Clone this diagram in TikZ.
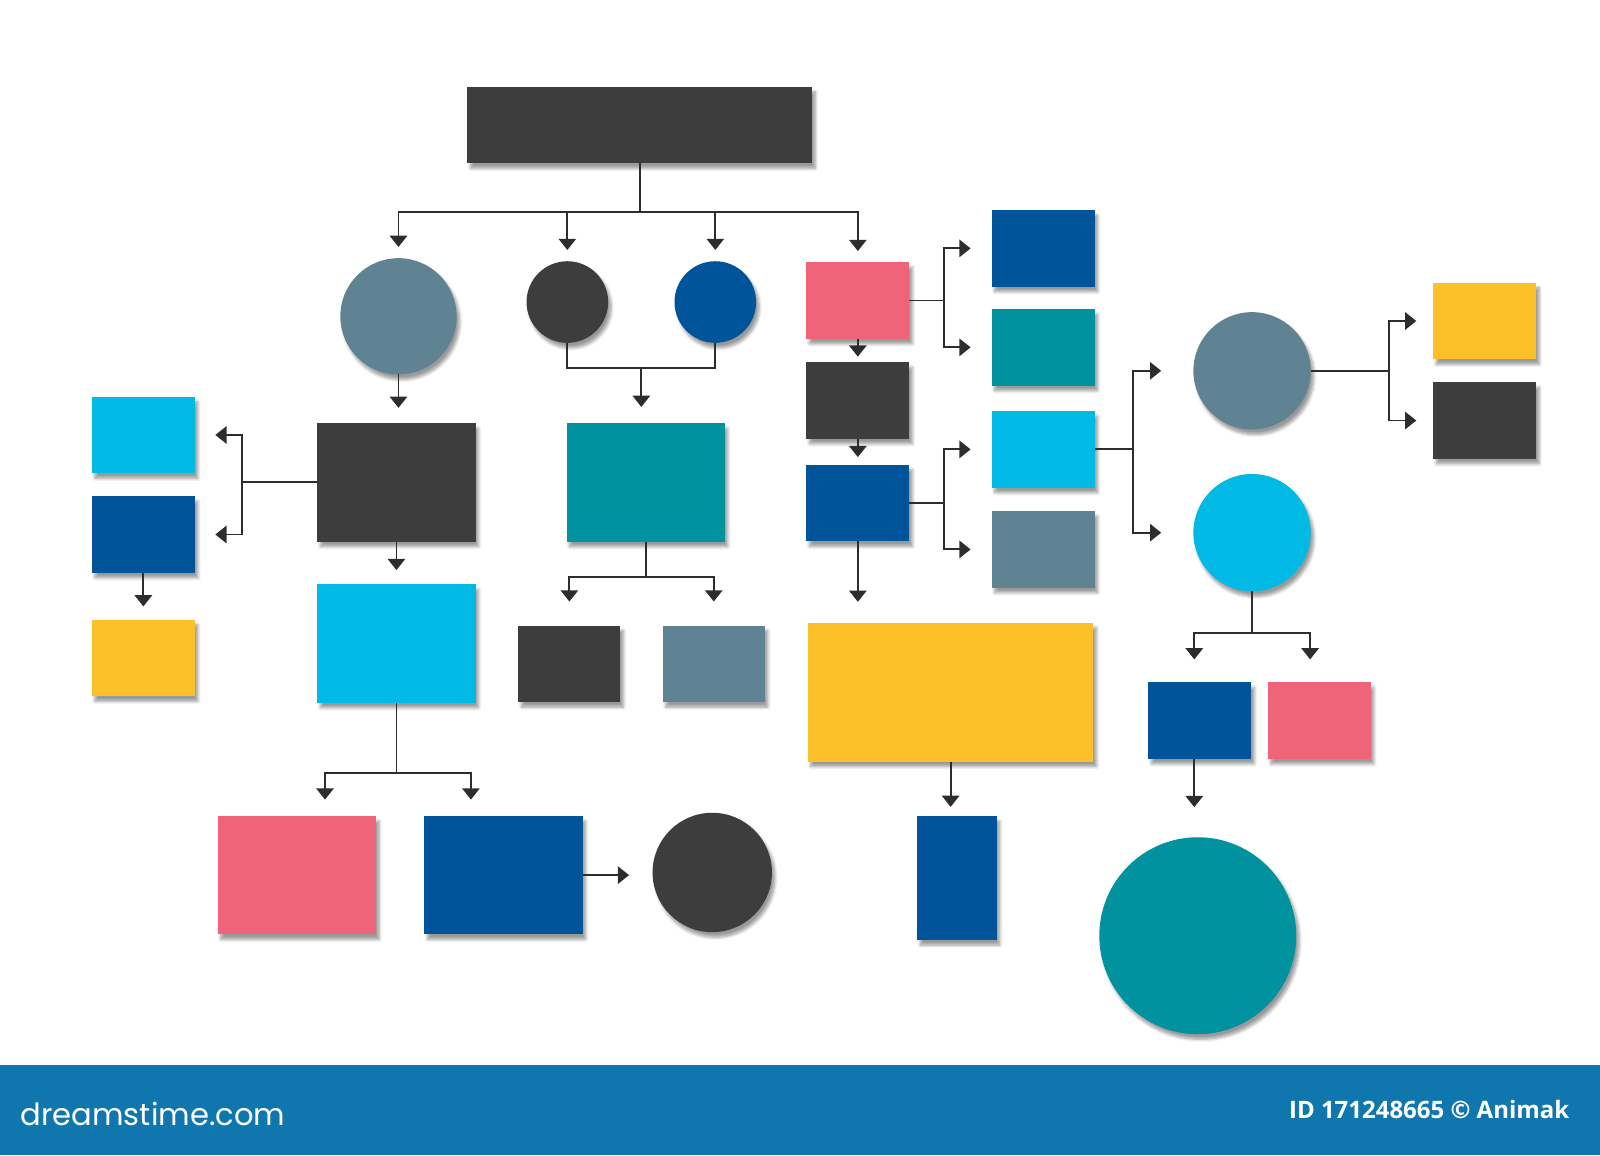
\documentclass[tikz,border=0pt]{standalone}
\usepackage{fontspec}
\setsansfont{Open Sans}
\newfontfamily\brandfont{Poppins}
\usepackage{tikz}
\usetikzlibrary{arrows.meta,positioning,calc,shadows.blur}
\definecolor{darkcolor}{RGB}{61,61,61}
\definecolor{slatecolor}{RGB}{95,131,147}
\definecolor{navycolor}{RGB}{0,85,154}
\definecolor{pinkcolor}{RGB}{240,100,122}
\definecolor{tealcolor}{RGB}{0,147,159}
\definecolor{cyancolor}{RGB}{0,185,229}
\definecolor{yellowcolor}{RGB}{254,192,40}
\definecolor{bandcolor}{RGB}{16,119,174}
\definecolor{linecolor}{RGB}{45,45,45}

\begin{document}
\begin{tikzpicture}[
    x=1pt, y=-1pt,
    paper/.style={blur shadow={shadow xshift=3pt, shadow yshift=-5pt, shadow blur radius=3pt, shadow blur steps=6, shadow opacity=40}},
    box/.style={rectangle, inner sep=0pt, outer sep=0pt, minimum width=101pt, minimum height=75pt, paper},
    bigbox/.style={box, minimum width=155pt, minimum height=116pt},
    disc/.style={circle, inner sep=0pt, outer sep=0pt, minimum size=#1, paper},
    line/.style={line width=1.8pt, draw=linecolor},
    arrow/.style={line, -{Triangle[width=17pt,length=11pt]}}
]
    \useasboundingbox (0,0) rectangle (1568,1132);

    % Nodes
    \node[box, minimum width=338pt, fill=darkcolor] (top) at (627,122.5) {};
    \node[disc=114pt, fill=slatecolor] (gray1) at (390.5,310) {};
    \node[disc=80pt, fill=darkcolor] (dark1) at (556,296) {};
    \node[disc=80pt, fill=navycolor] (blue1) at (701,296) {};
    \node[box, fill=pinkcolor] (pink1) at (840.7,294.5) {};
    \node[box, fill=darkcolor, below=23pt of pink1] (dark2) {};
    \node[box, fill=navycolor, below=25.5pt of dark2] (blue2) {};

    \node[box, fill=navycolor] (r1) at (1022.2,243.4) {};
    \node[box, fill=tealcolor, below=22pt of r1] (r2) {};
    \node[box, fill=cyancolor, below=25pt of r2] (r3) {};
    \node[box, fill=slatecolor, below=23pt of r3] (r4) {};

    \node[bigbox, fill=darkcolor] (darkL) at (388.5,472.7) {};
    \node[bigbox, fill=cyancolor, below=42pt of darkL] (cyanL) {};
    \node[bigbox, fill=tealcolor] (tealM) at (632.7,472.8) {};

    \node[box, fill=cyancolor] (lcyan) at (140.5,426.3) {};
    \node[box, fill=navycolor, below=22.5pt of lcyan] (lblue) {};
    \node[box, fill=yellowcolor, below=46pt of lblue] (lyellow) {};

    \node[box, minimum width=100pt, fill=darkcolor] (s1) at (558,650.5) {};
    \node[box, minimum width=100pt, fill=slatecolor] (s2) at (699.5,650.5) {};

    \node[bigbox, fill=pinkcolor] (pinkB) at (291,857.6) {};
    \node[bigbox, fill=navycolor, right=47.5pt of pinkB] (blueB) {};
    \node[disc=117pt, fill=darkcolor] (darkC) at (698,855) {};

    \node[box, minimum width=280pt, minimum height=136pt, fill=yellowcolor] (yellowB) at (931.6,678.3) {};
    \node[box, minimum width=78pt, minimum height=121.5pt, fill=navycolor] (blueT) at (937.8,860.5) {};

    \node[disc=115pt, fill=slatecolor] (grayR) at (1227,363.4) {};
    \node[disc=115pt, fill=cyancolor] (cyanR) at (1227,522) {};
    \node[box, fill=yellowcolor] (yellowS) at (1455,314.6) {};
    \node[box, fill=darkcolor, below=22.5pt of yellowS] (darkS) {};

    \node[box, fill=navycolor] (blueS) at (1175.9,706.2) {};
    \node[box, fill=pinkcolor, right=16pt of blueS] (pinkS) {};
    \node[disc=193pt, fill=tealcolor] (tealC) at (1173.8,917) {};

    % Arrows
    \draw[line] (top.south) -- ++(0,48) coordinate (hub);
    \foreach \n in {gray1,dark1,blue1,pink1}
        \draw[arrow, shorten >=11pt] (hub) -| (\n.north);

    \draw[line] (dark1.south) -- ++(0,25) -| (blue1.south);
    \coordinate (join) at ($(dark1.south)!0.5!(blue1.south)+(0,25)$);
    \draw[arrow, shorten >=16pt] (join) -- (join |- tealM.north);

    \draw[arrow, shorten >=15pt] (gray1.south) -- (gray1.south |- darkL.north);
    \draw[line] (darkL.west) -- ++(-74,0) coordinate (lhub);
    \foreach \n in {lcyan,lblue}
        \draw[arrow, shorten >=20pt] (lhub) |- (\n.east);
    \draw[arrow, shorten >=13pt] (lblue.south) -- (lyellow.north);
    \draw[arrow, shorten >=14pt] (darkL.south) -- (cyanL.north);

    \draw[line] (tealM.south) -- ++(0,34.5) coordinate (mhub);
    \foreach \n in {s1,s2}
        \draw[arrow, shorten >=23.5pt] (mhub) -| (\n.north);

    \draw[line] (cyanL.south) -- ++(0,69) coordinate (bhub);
    \draw[arrow, shorten >=16pt] (bhub) -| ([xshift=27.5pt]pinkB.north);
    \draw[arrow, shorten >=16pt] (bhub) -| ([xshift=-32pt]blueB.north);
    \draw[arrow, shorten >=23pt] (blueB.east) -- (blueB.east -| darkC.west);

    \draw[arrow, shorten >=5.5pt] (pink1.south) -- (dark2.north);
    \draw[arrow, shorten >=7.5pt] (dark2.south) -- (blue2.north);
    \draw[arrow, shorten >=20.5pt] (blue2.south) -- (blue2.south |- yellowB.north);
    \draw[line] (pink1.east) -- ++(33.5,0) coordinate (phub);
    \foreach \n in {r1,r2}
        \draw[arrow, shorten >=20.5pt] (phub) |- (\n.west);
    \draw[line] (blue2.east) -- ++(33.5,0) coordinate (qhub);
    \foreach \n in {r3,r4}
        \draw[arrow, shorten >=20.5pt] (qhub) |- (\n.west);

    \draw[line] (r3.east) -- ++(38,0) coordinate (rhub);
    \foreach \n in {grayR,cyanR}
        \draw[arrow, shorten >=31.5pt] (rhub) |- (\n.west);
    \draw[line] (grayR.east) -- ++(77,0) coordinate (ghub);
    \foreach \n in {yellowS,darkS}
        \draw[arrow, shorten >=16.5pt] (ghub) |- (\n.west);

    \draw[line] (cyanR.south) -- ++(0,41) coordinate (chub);
    \draw[arrow, shorten >=22.5pt] (chub) -| ([xshift=-5.5pt]blueS.north);
    \draw[arrow, shorten >=22.5pt] (chub) -| ([xshift=-9pt]pinkS.north);
    \draw[arrow, shorten >=9pt] (yellowB.south) -- (yellowB.south |- blueT.north);
    \draw[arrow, shorten >=29.5pt] ([xshift=-5.5pt]blueS.south) -- ([xshift=-5.5pt]blueS.south |- tealC.north);

    % Band
    \fill[bandcolor] (0,1043.7) rectangle (1568,1132);
    \node[anchor=base west, inner sep=0pt, text=white, font=\brandfont\fontsize{30}{30}\selectfont] (brand) at (20,1103) {dreamstime.com};
    \node[anchor=base east, inner sep=0pt, text=white, font=\sffamily\bfseries\fontsize{23.5}{23.5}\selectfont] (credit) at (1538,1096) {ID 171248665 © Animak};
\end{tikzpicture}
\end{document}
